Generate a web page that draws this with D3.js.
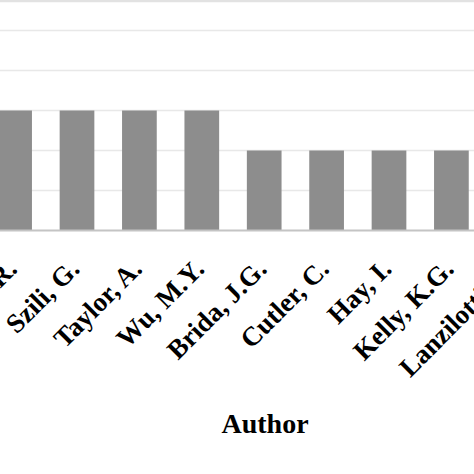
<!DOCTYPE html>
<html><head><meta charset="utf-8">
<script src="https://cdn.jsdelivr.net/npm/d3@7"></script>
<style>html,body{margin:0;padding:0;background:#fff;overflow:hidden}</style>
</head><body>
<script>
const authors = ["Ratten, R.", "Szili, G.", "Taylor, A.", "Wu, M.Y.", "Brida, J.G.", "Cutler, C.", "Hay, I.", "Kelly, K.G.", "Lanzilotti, R."];
const counts = [3, 3, 3, 3, 2, 2, 2, 2, 2];
const yTicks = [0, 1, 2, 3, 4, 5, 6];
const xTitle = "Author";

const W = 474, H = 474;
const svg = d3.select("body").append("svg").attr("width", W).attr("height", H);

const x = d3.scaleBand().domain(authors).range([-16.6, 545]).paddingInner(0.444).paddingOuter(0.222);
const y = d3.scaleLinear().domain([0, 6]).range([230.5, -9.5]);

// top frame edge
svg.append("line").attr("x1", 0).attr("x2", W).attr("y1", 1).attr("y2", 1)
  .attr("stroke", "#e2e2e2").attr("stroke-width", 2.5);

// gridlines
svg.append("g").selectAll("line").data(yTicks.filter(d => d > 0)).join("line")
  .attr("x1", 0).attr("x2", W)
  .attr("y1", d => y(d)).attr("y2", d => y(d))
  .attr("stroke", "#e8e8e8").attr("stroke-width", 1.3);

// bars
svg.append("g").selectAll("rect").data(authors).join("rect")
  .attr("x", d => x(d)).attr("width", x.bandwidth())
  .attr("y", (d, i) => y(counts[i])).attr("height", (d, i) => y(0) - y(counts[i]))
  .attr("fill", "#8d8d8d");

// x axis
const xAxis = d3.axisBottom(x).tickSize(0).tickPadding(0);
const gx = svg.append("g").attr("transform", `translate(0,${y(0)})`).call(xAxis);
gx.select(".domain").remove();
gx.append("line").attr("x1", 0).attr("x2", W).attr("y1", 0).attr("y2", 0)
  .attr("stroke", "#c4c4c4").attr("stroke-width", 2);
gx.selectAll(".tick text")
  .attr("font-family", "'Liberation Serif', serif")
  .attr("font-weight", "bold")
  .attr("font-size", 27)
  .attr("fill", "#000")
  .attr("text-anchor", "end")
  .attr("dy", null)
  .attr("transform", "translate(4,40) rotate(-45)");

svg.append("text").attr("x", 265).attr("y", 433)
  .attr("text-anchor", "middle")
  .attr("font-family", "'Liberation Serif', serif")
  .attr("font-weight", "bold").attr("font-size", 28).attr("fill", "#000")
  .text(xTitle);
</script>
</body></html>
